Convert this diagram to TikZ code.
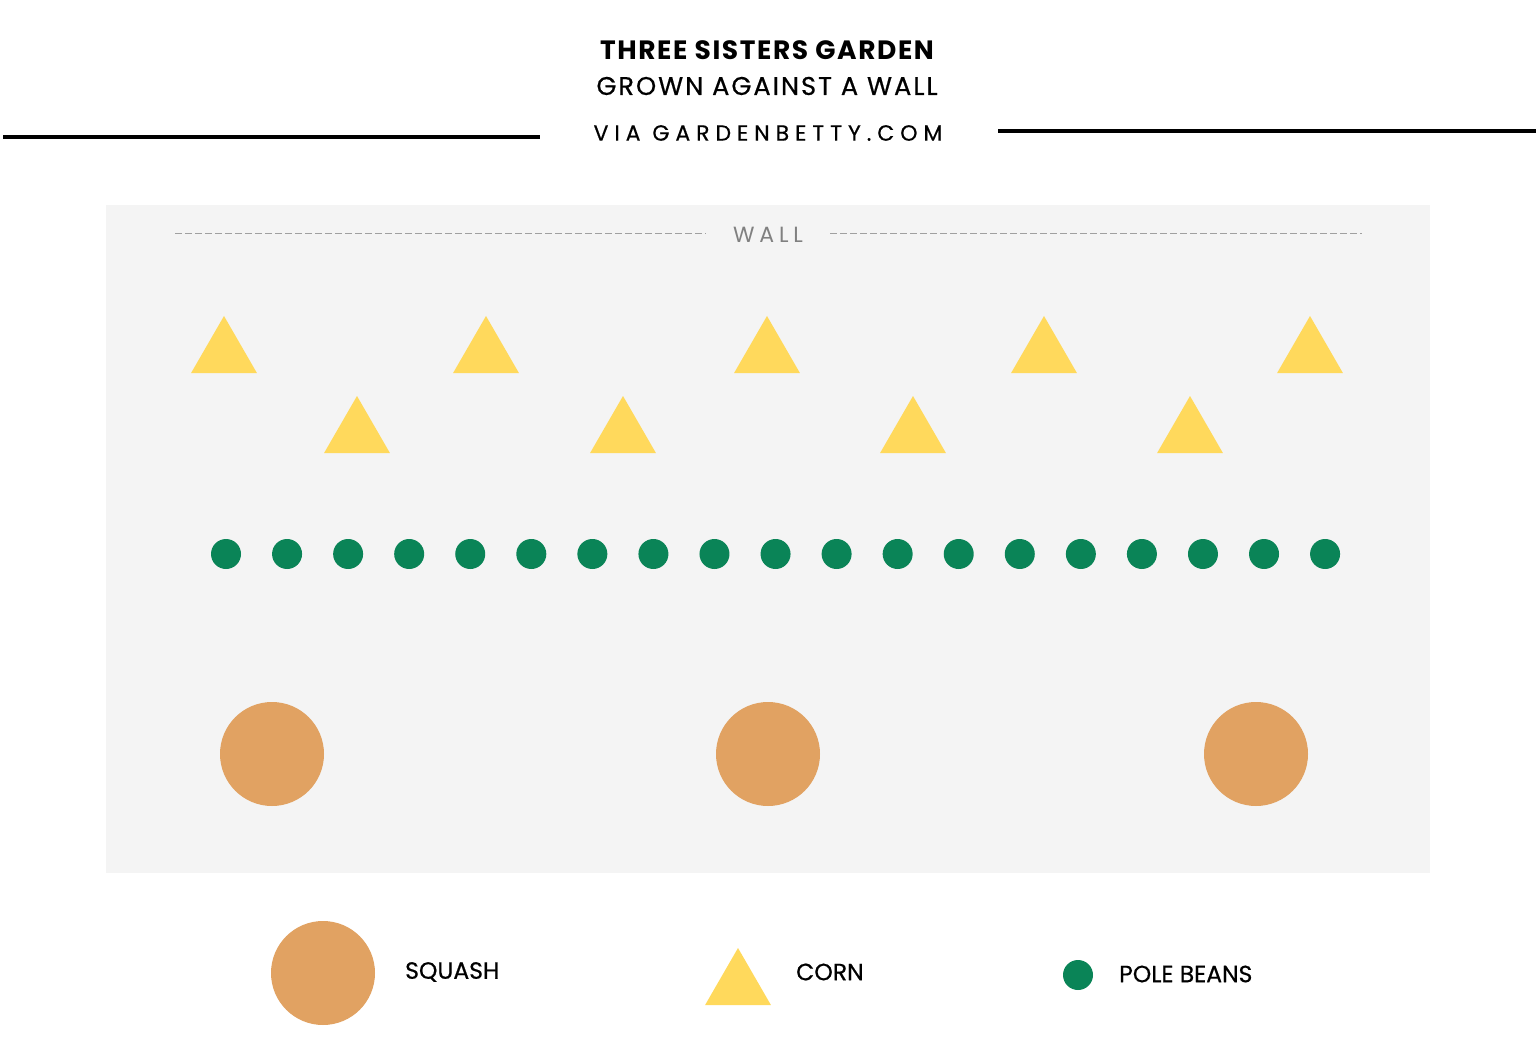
\documentclass[tikz,border=0pt]{standalone}
\usepackage{fontspec}
\setmainfont{Poppins}
\newfontfamily\spacedfont[LetterSpace=27,FakeBold=0.5]{Poppins}
\newfontfamily\wallfont[LetterSpace=22]{Poppins}
\newfontfamily\legendfont[FakeBold=0.6]{Poppins}
\usetikzlibrary{shapes.geometric}
\definecolor{bedgray}{RGB}{244,244,244}
\definecolor{wallgray}{RGB}{160,160,160}
\definecolor{cornyellow}{RGB}{255,217,92}
\definecolor{beangreen}{RGB}{10,132,87}
\definecolor{squashorange}{RGB}{225,162,98}

\begin{document}
\begin{tikzpicture}[
    x=1pt, y=-1pt,
    corn/.style={regular polygon, regular polygon sides=3, fill=cornyellow, minimum size=76pt, inner sep=0pt, outer sep=0pt},
    bean/.style={circle, fill=beangreen, minimum size=30pt, inner sep=0pt},
    squash/.style={circle, fill=squashorange, minimum size=104pt, inner sep=0pt},
    legendtext/.style={anchor=west, inner sep=0pt, font=\fontsize{23.5}{28}\selectfont\legendfont},
    rule/.style={line width=4pt, black}
]
\useasboundingbox[fill=white] (0,0) rectangle (1536,1056);

% Title
\node[font=\fontsize{26.5}{30}\selectfont\bfseries\addfontfeature{LetterSpace=6}] (title) at (767,50) {THREE SISTERS GARDEN};
\node[font=\fontsize{25.6}{30}\selectfont\legendfont\addfontfeature{LetterSpace=8}] (subtitle) at (767,86) {GROWN AGAINST A WALL};
\node[font=\fontsize{22}{26}\selectfont\spacedfont] (source) at (768,133) {VIA GARDENBETTY.COM};

\coordinate (ruleLa) at (3,137);
\coordinate (ruleLb) at (540,137);
\coordinate (ruleRa) at (998,131);
\coordinate (ruleRb) at (1536,131);
\draw[rule] (ruleLa) -- (ruleLb);
\draw[rule] (ruleRa) -- (ruleRb);

% Garden bed
\fill[bedgray] (106,205) rectangle (1430,873);

% Wall
\node[font=\fontsize{22}{26}\selectfont\wallfont, text=wallgray!80!black, inner xsep=27pt, inner ysep=0pt] (wall) at (768,235) {WALL};
\coordinate (wallL) at (175,234);
\coordinate (wallR) at (1362,234);
\draw[wallgray, line width=1pt, dash pattern=on 7pt off 3pt] (wallL) -- (wall.west |- wallL);
\draw[wallgray, line width=1pt, dash pattern=on 7pt off 3pt] (wall.east |- wallR) -- (wallR);

% Corn, back row and front row
\foreach \x [count=\i] in {224,486,767,1044,1310}
    \node[corn] (cornA\i) at (\x,354) {};
\foreach \x [count=\i] in {357,623,913,1190}
    \node[corn] (cornB\i) at (\x,434) {};

% Pole beans
\foreach \i in {0,...,18}
    \node[bean] (bean\i) at ({226+61.06*\i},554) {};

% Squash
\foreach \x [count=\i] in {272,768,1256}
    \node[squash] (squash\i) at (\x,754) {};

% Legend
\node[squash] (keysquash) at (323,973) {};
\node[legendtext] (keysquashtext) at (405,972) {SQUASH};
\node[corn] (keycorn) at (738,986) {};
\node[legendtext] (keycorntext) at (796,972) {CORN};
\node[bean] (keybean) at (1078,975) {};
\node[legendtext] (keybeantext) at (1119,974) {POLE BEANS};

\end{tikzpicture}
\end{document}
